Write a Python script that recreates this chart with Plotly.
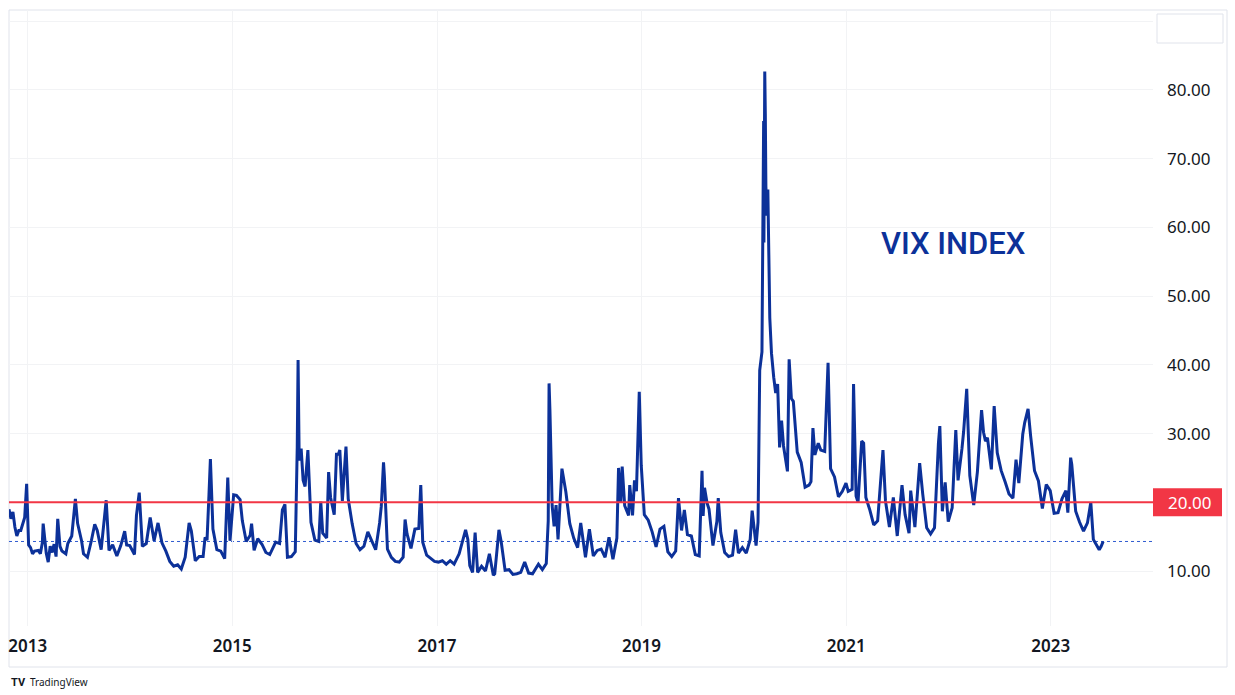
import plotly.graph_objects as go

dates = [
"2012-10-26","2012-11-02","2012-11-09","2012-11-16","2012-11-23","2012-11-30","2012-12-07","2012-12-14","2012-12-21","2012-12-28",
"2013-01-04","2013-01-11","2013-01-18","2013-01-25","2013-02-01","2013-02-08","2013-02-15","2013-02-22","2013-02-25","2013-03-01",
"2013-03-08","2013-03-15","2013-03-22","2013-03-29","2013-04-05","2013-04-12","2013-04-18","2013-04-26","2013-05-03","2013-05-17",
"2013-05-24","2013-06-07","2013-06-20","2013-06-28","2013-07-12","2013-07-19","2013-08-02","2013-08-16","2013-08-28","2013-09-06",
"2013-09-20","2013-10-08","2013-10-18","2013-10-31","2013-11-15","2013-11-29","2013-12-13","2013-12-20","2013-12-31","2014-01-17",
"2014-01-24","2014-02-03","2014-02-14","2014-02-28","2014-03-14","2014-03-28","2014-04-11","2014-04-25","2014-05-09","2014-05-23",
"2014-06-06","2014-06-20","2014-07-03","2014-07-17","2014-07-31","2014-08-08","2014-08-22","2014-09-05","2014-09-19","2014-09-26",
"2014-10-03","2014-10-10","2014-10-15","2014-10-24","2014-11-07","2014-11-21","2014-12-05","2014-12-16","2014-12-24","2015-01-06",
"2015-01-16","2015-01-29","2015-02-06","2015-02-20","2015-03-06","2015-03-11","2015-03-20","2015-04-02","2015-04-17","2015-05-01",
"2015-05-15","2015-06-05","2015-06-19","2015-06-29","2015-07-08","2015-07-17","2015-07-31","2015-08-14","2015-08-21","2015-08-24",
"2015-08-28","2015-09-04","2015-09-11","2015-09-18","2015-09-28","2015-10-09","2015-10-23","2015-11-06","2015-11-13","2015-11-20",
"2015-12-04","2015-12-11","2015-12-18","2015-12-31","2016-01-08","2016-01-15","2016-01-20","2016-01-29","2016-02-11","2016-02-19",
"2016-03-04","2016-03-18","2016-04-01","2016-04-15","2016-04-29","2016-05-13","2016-05-27","2016-06-10","2016-06-16","2016-06-24",
"2016-06-27","2016-07-08","2016-07-22","2016-08-05","2016-08-19","2016-09-02","2016-09-09","2016-09-16","2016-09-30","2016-10-14",
"2016-10-28","2016-11-04","2016-11-11","2016-11-25","2016-12-09","2016-12-23","2017-01-06","2017-01-20","2017-02-03","2017-02-17",
"2017-03-03","2017-03-21","2017-04-13","2017-04-21","2017-04-28","2017-05-08","2017-05-17","2017-05-26","2017-06-09","2017-06-23",
"2017-07-07","2017-07-21","2017-07-26","2017-08-10","2017-08-18","2017-09-01","2017-09-15","2017-09-29","2017-10-13","2017-10-27",
"2017-11-10","2017-11-24","2017-12-08","2017-12-29","2018-01-12","2018-01-26","2018-02-02","2018-02-05","2018-02-08","2018-02-16",
"2018-02-23","2018-03-02","2018-03-09","2018-03-23","2018-04-06","2018-04-20","2018-05-04","2018-05-18","2018-05-29","2018-06-15",
"2018-06-29","2018-07-13","2018-07-27","2018-08-10","2018-08-24","2018-09-07","2018-09-21","2018-10-05","2018-10-11","2018-10-19",
"2018-10-24","2018-11-02","2018-11-16","2018-11-20","2018-11-30","2018-12-07","2018-12-14","2018-12-24","2018-12-31","2019-01-11",
"2019-01-25","2019-02-08","2019-02-22","2019-03-08","2019-03-22","2019-04-05","2019-04-19","2019-05-03","2019-05-13","2019-05-24",
"2019-06-03","2019-06-14","2019-06-28","2019-07-12","2019-07-26","2019-08-05","2019-08-09","2019-08-14","2019-08-23","2019-08-30",
"2019-09-13","2019-09-27","2019-10-02","2019-10-11","2019-10-25","2019-11-08","2019-11-22","2019-12-03","2019-12-13","2019-12-27",
"2020-01-10","2020-01-24","2020-01-31","2020-02-14","2020-02-21","2020-02-24","2020-02-27","2020-03-06","2020-03-09","2020-03-12",
"2020-03-13","2020-03-16","2020-03-18","2020-03-20","2020-03-24","2020-03-27","2020-04-03","2020-04-09","2020-04-17","2020-04-24",
"2020-05-01","2020-05-08","2020-05-15","2020-05-22","2020-06-05","2020-06-11","2020-06-19","2020-06-26","2020-07-10","2020-07-24",
"2020-08-07","2020-08-21","2020-08-28","2020-09-04","2020-09-11","2020-09-23","2020-10-02","2020-10-16","2020-10-28","2020-11-06",
"2020-11-20","2020-12-04","2020-12-18","2020-12-31","2021-01-08","2021-01-22","2021-01-27","2021-02-05","2021-02-12","2021-02-25",
"2021-03-04","2021-03-12","2021-03-26","2021-04-09","2021-04-23","2021-05-12","2021-05-21","2021-06-04","2021-06-18","2021-07-02",
"2021-07-19","2021-07-30","2021-08-13","2021-08-19","2021-09-03","2021-09-20","2021-10-01","2021-10-15","2021-10-29","2021-11-12",
"2021-11-26","2021-12-01","2021-12-10","2021-12-20","2021-12-31","2022-01-14","2022-01-27","2022-02-04","2022-02-18","2022-02-24",
"2022-03-07","2022-03-18","2022-04-01","2022-04-14","2022-04-29","2022-05-06","2022-05-13","2022-05-20","2022-06-03","2022-06-13",
"2022-06-24","2022-07-08","2022-07-22","2022-08-05","2022-08-19","2022-08-30","2022-09-09","2022-09-23","2022-09-30","2022-10-12",
"2022-10-21","2022-11-04","2022-11-18","2022-12-02","2022-12-16","2022-12-30","2023-01-13","2023-01-27","2023-02-10","2023-02-24",
"2023-03-03","2023-03-13","2023-03-17","2023-03-31","2023-04-14","2023-04-28","2023-05-12","2023-05-24","2023-06-02","2023-06-16",
"2023-06-23","2023-06-30","2023-07-07",
]

vix = [
19.0,17.6,18.6,16.4,15.1,15.9,15.9,17.0,17.8,22.7,
13.8,13.4,12.5,12.9,12.9,13.0,12.5,14.1,16.9,15.4,
12.6,11.3,13.6,12.7,13.9,12.1,17.6,13.6,12.9,12.5,
14.0,15.1,20.5,16.9,14.4,12.5,12.0,14.4,16.8,15.9,
13.1,20.3,13.0,13.8,12.2,13.7,15.8,13.8,13.7,12.4,
18.1,21.4,13.6,14.0,17.8,14.4,17.0,14.1,12.9,11.4,
10.7,10.9,10.3,12.0,17.0,15.8,11.5,12.1,12.1,14.9,
14.5,21.2,26.3,16.1,13.1,12.9,11.8,23.6,14.4,21.1,
21.0,20.4,17.3,14.3,15.2,16.9,13.0,14.7,13.9,12.7,
12.4,14.2,14.0,18.9,19.7,12.0,12.1,12.8,28.0,40.7,
26.1,27.8,23.2,22.3,27.6,17.1,14.5,14.3,20.1,15.5,
14.8,24.4,20.7,18.2,27.0,27.0,27.6,20.2,28.1,20.5,
16.9,14.0,13.1,13.6,15.7,14.4,13.1,17.0,19.4,25.8,
23.9,13.2,12.0,11.4,11.3,12.0,17.5,15.4,13.3,16.1,
16.2,22.5,14.2,12.3,11.8,11.4,11.3,11.5,11.0,11.5,
11.0,12.5,16.0,14.6,10.8,9.8,15.6,9.8,10.7,10.0,
12.5,9.4,9.6,16.0,14.3,10.1,10.2,9.5,9.6,9.8,
11.3,9.7,9.6,11.0,10.2,11.1,17.3,37.3,33.5,19.5,
16.5,19.6,14.6,24.9,21.5,16.9,14.8,13.4,17.0,12.0,
16.1,12.2,13.0,13.2,12.0,14.9,11.7,14.8,25.0,19.9,
25.2,19.5,18.1,22.5,18.1,23.2,21.6,36.1,25.4,18.2,
17.4,15.7,13.5,16.1,16.5,12.8,12.1,12.9,20.6,15.9,
18.9,15.3,15.1,12.4,12.2,24.6,18.0,22.1,19.9,19.0,
13.7,17.2,20.6,15.6,12.7,12.1,12.3,16.0,12.6,13.4,
12.6,14.6,18.8,13.7,17.1,25.0,39.2,41.9,54.5,75.5,
57.8,82.7,76.5,66.0,61.7,65.5,46.8,41.7,38.2,35.9,
37.2,28.0,31.9,28.2,24.5,40.8,35.1,34.7,27.3,25.8,
22.2,22.5,23.0,30.8,26.9,28.6,27.6,27.4,40.3,24.9,
23.7,20.8,21.6,22.8,21.6,21.9,37.2,20.9,20.0,28.9,
28.6,20.7,18.9,16.7,17.3,27.6,20.2,16.4,20.7,15.1,
22.5,18.2,15.5,21.7,16.4,25.7,21.2,16.3,15.4,16.3,
28.6,31.1,18.7,22.9,17.2,19.2,30.5,23.2,27.8,30.3,
36.5,23.9,19.6,24.4,33.4,30.2,28.9,29.4,24.8,34.0,
27.2,24.6,23.0,21.2,20.6,26.2,22.8,29.9,31.6,33.6,
29.7,24.6,23.1,19.1,22.6,21.7,18.4,18.5,20.5,21.7,
18.5,26.5,25.5,18.7,17.1,15.8,17.0,20.0,14.6,13.5,
13.1,13.6,14.3,
]

y_ticks = [10, 20, 30, 40, 50, 60, 70, 80, 90]
y_tick_text = ["10.00", "20.00", "30.00", "40.00", "50.00", "60.00", "70.00", "80.00", ""]
x_ticks = ["2013-01-01", "2015-01-01", "2017-01-01", "2019-01-01", "2021-01-01", "2023-01-01"]
x_tick_text = ["2013", "2015", "2017", "2019", "2021", "2023"]
threshold = 20.0
last_value = vix[-1]

LINE = "#0c3199"
RED = "#f23645"
GRID = "#f2f3f5"
TEXT = "#131722"

fig = go.Figure()
fig.add_trace(go.Scatter(x=dates, y=vix, mode="lines",
                         line=dict(color=LINE, width=3), hoverinfo="skip",
                         showlegend=False))

# plot area in pixels: x 9..1153, y 10..626
W, H = 1235, 695
L, R, T, B = 9, 1153, 10, 626
def px(x):
    return (x - L) / (R - L)
def py(y):
    return (B - y) / (B - T)

shapes = [
    dict(type="rect", xref="paper", yref="paper", x0=px(9), x1=px(1227), y0=py(667), y1=py(10),
         line=dict(color="#e0e3eb", width=1), fillcolor="rgba(0,0,0,0)", layer="below"),
    dict(type="rect", xref="paper", yref="paper", x0=px(1157), x1=px(1223), y0=py(43), y1=py(14),
         line=dict(color="#e0e3eb", width=1), fillcolor="white", layer="above"),
    dict(type="line", xref="paper", yref="y", x0=0, x1=1, y0=last_value, y1=last_value,
         line=dict(color="#2f5bd0", width=1, dash="dot"), layer="below"),
    dict(type="line", xref="paper", yref="y", x0=0, x1=1, y0=threshold, y1=threshold,
         line=dict(color=RED, width=2), layer="above"),
    dict(type="rect", xref="paper", yref="y", x0=1.0, x1=px(1222), y0=threshold - 2.04, y1=threshold + 2.04,
         line=dict(color=RED, width=0), fillcolor=RED, layer="above"),
]

annotations = [
    dict(text=f"{threshold:.2f}", xref="paper", yref="y", x=px(1189), y=threshold,
         showarrow=False, font=dict(family="Noto Sans", size=17, color="white"),
         xanchor="center", yanchor="middle"),
    dict(text="VIX INDEX", xref="paper", yref="paper", x=px(879), y=py(243),
         showarrow=False, xanchor="left", yanchor="middle",
         font=dict(family="Roboto", size=31, color=LINE, weight=500)),
    dict(text="<b>TV</b>", xref="paper", yref="paper", x=px(9), y=py(682),
         showarrow=False, xanchor="left", yanchor="middle",
         font=dict(family="Roboto", size=11, color=TEXT)),
    dict(text="TradingView", xref="paper", yref="paper", x=px(28), y=py(682),
         showarrow=False, xanchor="left", yanchor="middle",
         font=dict(family="Noto Sans", size=10, color=TEXT)),
]

fig.update_layout(
    width=W, height=H,
    margin=dict(l=L, r=W - R, t=T, b=H - B),
    paper_bgcolor="white", plot_bgcolor="white",
    shapes=shapes, annotations=annotations,
    xaxis=dict(type="date", range=["2012-10-26", "2024-01-01"],
               tickvals=x_ticks, ticktext=x_tick_text,
               showgrid=True, gridcolor=GRID, gridwidth=1,
               zeroline=False, showline=False, ticks="",
               ticklabelstandoff=8,
               tickfont=dict(family="Noto Sans", size=17, color=TEXT, weight=600)),
    yaxis=dict(side="right", range=[2.0, 91.64],
               tickvals=y_ticks, ticktext=y_tick_text,
               showgrid=True, gridcolor=GRID, gridwidth=1,
               zeroline=False, showline=False, ticks="",
               ticklabelstandoff=13,
               tickfont=dict(family="Noto Sans", size=17, color=TEXT)),
)

fig.write_html("out.html")
